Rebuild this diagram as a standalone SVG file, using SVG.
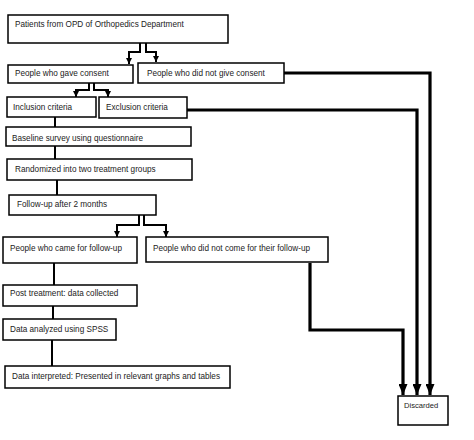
<svg xmlns="http://www.w3.org/2000/svg" width="474" height="440" viewBox="0 0 474 440">
<style>
.box{fill:#fff;stroke:#000;stroke-width:1.5}
.t{font-family:"Liberation Sans",Arial,sans-serif;font-size:8.2px;fill:#222}
.c{fill:none;stroke:#000;stroke-width:2}
.k{fill:none;stroke:#000;stroke-width:3.2}
</style>
<defs>
<marker id="s" markerUnits="userSpaceOnUse" viewBox="0 0 6 6" refX="6" refY="3" markerWidth="6" markerHeight="6" orient="auto">
<path d="M0,0 L6,3 L0,6 z"/>
</marker>
<marker id="b" markerUnits="userSpaceOnUse" viewBox="0 0 10 10" refX="10" refY="5" markerWidth="11" markerHeight="9" orient="auto" preserveAspectRatio="none">
<path d="M0,0 L10,5 L0,10 z"/>
</marker>
</defs>
<g id="connectors">
<path class="c" d="M140,43 V52 H129 V64" marker-end="url(#s)"/>
<path class="c" d="M146,43 V52 H156 V62" marker-end="url(#s)"/>
<path class="c" d="M89,83 V90 H76 V97" marker-end="url(#s)"/>
<path class="c" d="M94,83 V90 H108 V97" marker-end="url(#s)"/>
<path class="c" d="M55,117 V127"/>
<path class="c" d="M55,146 V159"/>
<path class="c" d="M57,180 V195"/>
<path class="c" d="M139,215 V225 H117 V237" marker-end="url(#s)"/>
<path class="c" d="M144,215 V225 H166 V237" marker-end="url(#s)"/>
<path class="c" d="M54,263 V285"/>
<path class="c" d="M53,306 V319"/>
<path class="c" d="M52,340 V366"/>
<path class="k" d="M284,73 H430 V395" marker-end="url(#b)"/>
<path class="k" d="M187,110 H417 V395" marker-end="url(#b)"/>
<path class="k" d="M310,263 V330 H403 V395" marker-end="url(#b)"/>
</g>
<g id="patients"><rect class="box" x="8" y="15" width="220" height="28"/><text class="t" x="15" y="27">Patients from OPD of Orthopedics Department</text></g>
<g id="gave-consent"><rect class="box" x="8" y="65" width="125" height="18"/><text class="t" x="15" y="76">People who gave consent</text></g>
<g id="no-consent"><rect class="box" x="138" y="63" width="146" height="20"/><text class="t" x="147" y="76">People who did not give consent</text></g>
<g id="inclusion"><rect class="box" x="7" y="97" width="89" height="20"/><text class="t" x="13" y="110">Inclusion criteria</text></g>
<g id="exclusion"><rect class="box" x="99" y="97" width="88" height="21"/><text class="t" x="106" y="110">Exclusion criteria</text></g>
<g id="baseline"><rect class="box" x="6" y="127" width="185" height="19"/><text class="t" x="12" y="141">Baseline survey using questionnaire</text></g>
<g id="randomized"><rect class="box" x="7" y="159" width="185" height="21"/><text class="t" x="15" y="172">Randomized into two treatment groups</text></g>
<g id="followup"><rect class="box" x="9" y="195" width="147" height="20"/><text class="t" x="17" y="207">Follow-up after 2 months</text></g>
<g id="came"><rect class="box" x="3" y="237" width="134" height="26"/><text class="t" x="10" y="251">People who came for follow-up</text></g>
<g id="not-came"><rect class="box" x="146" y="237" width="182" height="25"/><text class="t" x="153" y="251">People who did not come for their follow-up</text></g>
<g id="post"><rect class="box" x="3" y="285" width="134" height="21"/><text class="t" x="10" y="296">Post treatment: data collected</text></g>
<g id="analyzed"><rect class="box" x="3" y="319" width="113" height="21"/><text class="t" x="10" y="332">Data analyzed using SPSS</text></g>
<g id="interpreted"><rect class="box" x="5" y="366" width="225" height="22"/><text class="t" x="12" y="379">Data interpreted: Presented in relevant graphs and tables</text></g>
<g id="discarded"><rect class="box" x="398" y="396" width="50" height="29"/><text class="t" x="404" y="408" style="font-size:7.6px">Discarded</text></g>
</svg>
